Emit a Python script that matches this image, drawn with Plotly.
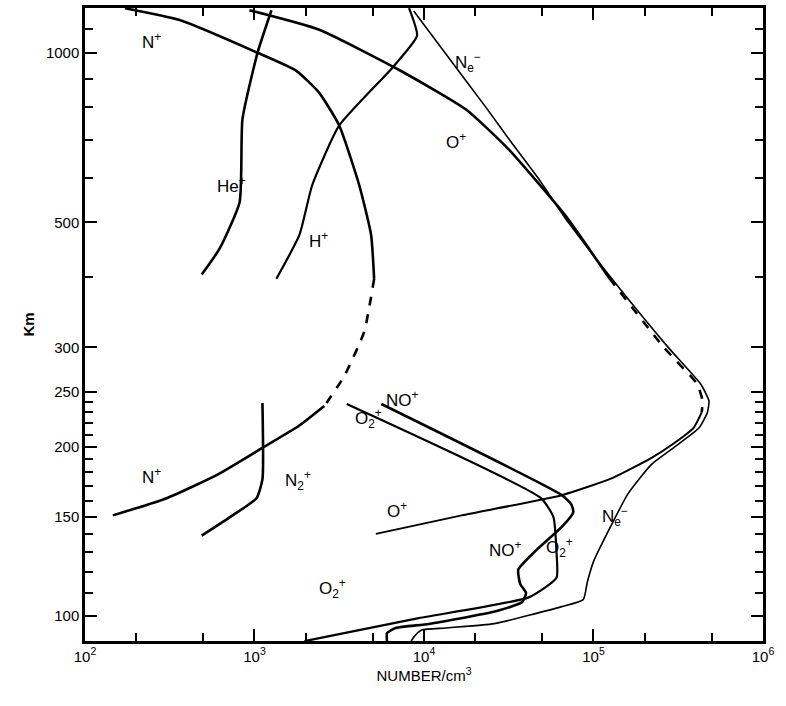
import plotly.graph_objects as go

# ---- data (density cm^-3, altitude km) ----
ne_n = [8.7e3, 1.33e4, 2.32e4, 3.2e4, 4.7e4, 7.1e4, 1.26e5, 2.76e5, 4.3e5, 4.8e5, 4.7e5, 4.2e5, 3.1e5, 2.2e5, 1.6e5, 1.2e5, 1.0e5, 9.2e4, 8.7e4, 6.5e4, 2.6e4, 1.34e4, 9.7e3, 8.7e3, 8.4e3]
ne_h = [1186, 1000, 800, 700, 600, 500, 400, 300, 258, 241, 230, 216, 201, 186, 165, 140, 125, 115, 107, 104, 97, 95.3, 94.5, 91.8, 90.3]

op_up_n = [933, 2410, 7100, 1.77e4, 3.16e4, 6.8e4, 1.24e5]
op_up_h = [1190, 1099, 933, 793, 674, 515, 398]
op_dash_n = [1.24e5, 2.6e5, 4.1e5, 4.4e5, 4.35e5]
op_dash_h = [398, 300, 258, 241, 230]
op_lo_n = [4.35e5, 3.9e5, 3.0e5, 2.2e5, 1.3e5, 6.5e4, 1.67e4, 5.2e3]
op_lo_h = [230, 216, 203, 191, 176, 164, 151, 140]

np_up_n = [172, 362, 1042, 1766, 2410, 3162, 4150, 4875, 5080]
np_up_h = [1200, 1143, 1000, 929, 849, 743, 582, 475, 397]
np_dash_n = [5080, 4440, 3390, 2580]
np_dash_h = [397, 320, 267, 236]
np_lo_n = [2580, 1841, 1114, 597, 303, 146]
np_lo_h = [236, 218, 199, 178, 162, 151]

n2p_n = [1114, 1114, 1028, 743, 488]
n2p_h = [239, 175, 162, 151, 139]

hep_n = [1259, 1042, 849, 817, 622, 488]
hep_h = [1190, 1000, 762, 543, 449, 404]

hp_n = [8160, 9100, 6490, 3162, 2190, 1841, 1346]
hp_h = [1200, 1072, 940, 743, 582, 475, 397]

nop_n = [5.6e3, 6.5e4, 7.4e4, 7.6e4, 6.5e4, 4.6e4, 3.6e4, 3.7e4, 4.0e4, 3.8e4, 2.65e4, 1.07e4, 6.8e3, 6.05e3, 6.05e3]
nop_h = [238, 164, 158, 153, 144, 131, 121, 114, 110, 106, 102, 96.9, 95.3, 93.3, 90.3]

o2p_n = [3.5e3, 4.9e4, 5.8e4, 6.05e4, 6.05e4, 4.15e4, 9.3e3, 1.97e3]
o2p_h = [238, 162, 150, 130, 117, 108, 99.2, 90.3]

x_ticks = [1e2, 1e3, 1e4, 1e5, 1e6]
x_labels = ["10<sup>2</sup>", "10<sup>3</sup>", "10<sup>4</sup>", "10<sup>5</sup>", "10<sup>6</sup>"]
x_minor = [2e2, 5e2, 2e3, 5e3, 2e4, 5e4, 2e5, 5e5]
y_ticks = [100, 150, 200, 250, 300, 500, 1000]
y_minor = [110, 120, 130, 140, 160, 170, 180, 190, 210, 220, 230, 240, 400, 600, 700, 800, 900, 1100]

W, H = 786, 706
L, R, T, B = 85, 763, 5, 641
FONT = "Liberation Sans"

fig = go.Figure()
def line(x, y, w=2.6, dash="solid"):
    fig.add_trace(go.Scatter(x=x, y=y, mode="lines",
                             line=dict(color="black", width=w, dash=dash, shape="spline", smoothing=0.5),
                             showlegend=False, hoverinfo="skip"))

line(ne_n, ne_h, 1.6)
line(op_up_n, op_up_h)
line(op_dash_n, op_dash_h, 2.6, "dash")
line(op_lo_n, op_lo_h, 2.0)
line(np_up_n, np_up_h)
line(np_dash_n, np_dash_h, 2.6, "dash")
line(np_lo_n, np_lo_h)
line(n2p_n, n2p_h)
line(hep_n, hep_h)
line(hp_n, hp_h, 2.2)
line(nop_n, nop_h)
line(o2p_n, o2p_h, 2.2)

labels = [
    ("N<sup>+</sup>", 140, 25), ("He<sup>+</sup>", 215, 170), ("H<sup>+</sup>", 318, 238),
    ("O<sup>+</sup>", 456, 126), ("N<sub>e</sub><sup>−</sup>", 468, 45), ("N<sup>+</sup>", 140, 488),
    ("N<sub>2</sub><sup>+</sup>", 283, 494), ("O<sub>2</sub><sup>+</sup>", 368, 432), ("NO<sup>+</sup>", 402, 398),
    ("O<sup>+</sup>", 397, 522), ("NO<sup>+</sup>", 505, 562), ("O<sub>2</sub><sup>+</sup>", 575, 562),
    ("N<sub>e</sub><sup>−</sup>", 630, 530), ("O<sub>2</sub><sup>+</sup>", 332, 603),
]
for t, px, py in labels:
    fig.add_annotation(text=t, x=(px - L) / (R - L), y=(B - py) / (B - T), xref="paper", yref="paper",
                       showarrow=False, font=dict(size=17, color="black", family=FONT))

axis_common = dict(showline=True, linecolor="black", linewidth=2.5, mirror="allticks", ticks="inside",
                   ticklen=12, tickwidth=1.5, tickcolor="black", showgrid=False, zeroline=False,
                   ticklabeloverflow="allow",
                   tickfont=dict(size=15, color="black", family=FONT))
fig.update_xaxes(type="log", range=[2, 6.0002], tickvals=x_ticks, ticktext=x_labels,
                 minor=dict(tickvals=x_minor, ticks="inside", ticklen=8, tickcolor="black", tickwidth=1.5),
                 title=dict(text="NUMBER/cm<sup>3</sup>", font=dict(size=15, family=FONT, color="black"), standoff=6),
                 **axis_common)
fig.update_yaxes(type="log", range=[1.956, 3.0795], tickvals=y_ticks, ticktext=[str(v) for v in y_ticks],
                 minor=dict(tickvals=y_minor, ticks="inside", ticklen=8, tickcolor="black", tickwidth=1.5),
                 title=dict(text="<b>Km</b>", font=dict(size=15, family=FONT, color="black"), standoff=8),
                 **axis_common)
fig.update_layout(width=W, height=H, margin=dict(l=L, r=W - R, t=T, b=H - B),
                  plot_bgcolor="white", paper_bgcolor="white")
fig.write_html("out.html", config={"displayModeBar": False},
               post_script="document.body.style.margin='0';document.body.style.overflow='hidden';")
